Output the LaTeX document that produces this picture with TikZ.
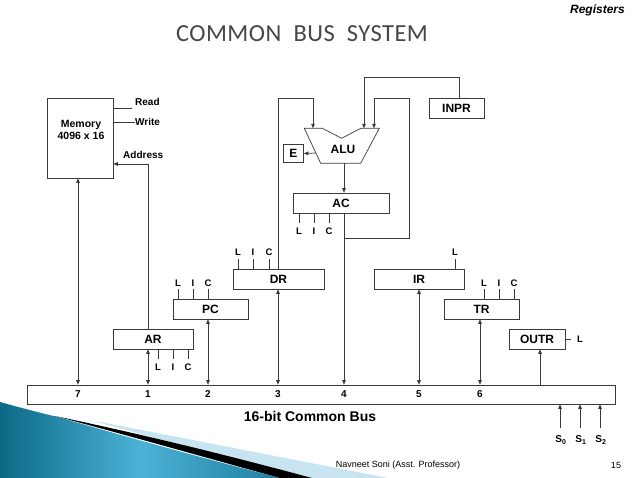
\documentclass[tikz,border=0pt]{standalone}
\usepackage{fontspec}
\setmainfont{Liberation Sans}
\newfontfamily\titlefont[LetterSpace=2]{Carlito}
\usetikzlibrary{arrows.meta}
\definecolor{wirecol}{HTML}{3A3A3A}
\definecolor{tealdark}{HTML}{0B6A86}
\definecolor{teallight}{HTML}{4DB2D6}
\definecolor{paleblue}{HTML}{C8E4F0}
\begin{document}
\begin{tikzpicture}[x=1pt,y=-1pt,
  every node/.style={inner sep=0pt, font=\bfseries\fontsize{10}{12}\selectfont},
  box/.style={draw=wirecol, line width=0.7pt, font=\bfseries\fontsize{12}{14}\selectfont},
  wire/.style={draw=wirecol, line width=0.7pt},
  tip/.style={-{Triangle[length=4.5pt,width=3.6pt]}},
  both/.style={{Triangle[length=4.5pt,width=3.6pt]}-{Triangle[length=4.5pt,width=3.6pt]}},
  lic/.style={font=\bfseries\fontsize{9.5}{11}\selectfont},
  busnum/.style={font=\bfseries\fontsize{10}{12}\selectfont},
]
\useasboundingbox (0,0) rectangle (638,478);

% decorative swoosh
\fill[paleblue] (90,420) -- (388,478) -- (300,478) -- cycle;
\shade[left color=tealdark, right color=tealdark!70!teallight, middle color=teallight]
  (0,402) .. controls (25,409) and (45,414) .. (58,417) .. controls (130,438) and (210,460) .. (280,478) -- (0,478) -- cycle;
\fill[black] (55,416) .. controls (150,436) and (230,456) .. (312,478) -- (280,478) .. controls (200,456) and (130,436) .. (55,416) -- cycle;

% title and header
\node[font=\titlefont\fontsize{24.5}{27}\selectfont, text=black!72] (title) at (302,34) {COMMON\ \ BUS\ \ SYSTEM};
\node[font=\bfseries\itshape\fontsize{12}{14}\selectfont, anchor=east] (hdr) at (625,10) {Registers};

% columns
\coordinate (c7) at (78,0);
\coordinate (c1) at (148,0);
\coordinate (c2) at (208,0);
\coordinate (c3) at (278,0);
\coordinate (c4) at (344,0);
\coordinate (c5) at (419,0);
\coordinate (c6) at (480,0);
\coordinate (cO) at (540,0);
\coordinate (topA) at (0,98);

% memory
\node[box, minimum width=66pt, minimum height=80pt] (mem) at (80,138) {};
\node[align=center, font=\bfseries\fontsize{10.5}{12}\selectfont] (memtxt) at (81,130) {Memory\\4096 x 16};
\node[anchor=west] (read) at (135,102) {Read};
\node[anchor=west] (write) at (135,122) {Write};
\node[anchor=west] (addr) at (123,155) {Address};
\draw[wire] ([yshift=30pt]mem.east) -- ++(19,0) coordinate (readend);
\draw[wire] (mem.east |- write.west) -- (write.west);

% ALU
\coordinate (aluin1) at (313,128.3);
\coordinate (aluin2) at (364,128.3);
\coordinate (aluin3) at (374,128.3);
\coordinate (aluout) at (344,163.3);
\coordinate (aluE) at (316,153);
\draw[wire, line join=miter] (304.3,128.3) -- (322.3,128.3) -- (341.7,138.3) -- (360.7,128.3) -- (379.3,128.3)
  -- (360.7,163.3) -- (320.7,163.3) -- cycle;
\node[font=\bfseries\fontsize{12}{14}\selectfont] (alu) at (343,149) {ALU};
\node[box, minimum width=20pt, minimum height=18pt] (E) at (293.5,153.5) {E};
\node[box, minimum width=55pt, minimum height=20pt] (INPR) at (456.5,108) {INPR};
\node[box, minimum width=96pt, minimum height=20pt] (AC) at (341,203) {AC};

% registers
\node[box, minimum width=91pt, minimum height=20pt] (DR) at (278.5,279) {DR};
\node[box, minimum width=75pt, minimum height=20pt] (PC) at (210.5,309) {PC};
\node[box, minimum width=80pt, minimum height=20pt] (AR) at (153,339) {AR};
\node[box, minimum width=90pt, minimum height=20pt] (IR) at (419,279) {IR};
\node[box, minimum width=75pt, minimum height=20pt] (TR) at (481.5,309) {TR};
\node[box, minimum width=56pt, minimum height=20pt] (OUTR) at (537,339) {OUTR};

% bus
\node[box, minimum width=588pt, minimum height=19pt] (bus) at (321,394.5) {};
\foreach \c/\n in {c7/7,c1/1,c2/2,c3/3,c4/4,c5/5,c6/6}
  \node[busnum] at (bus.center -| \c) {\n};
\node[font=\bfseries\fontsize{14}{16}\selectfont] (buslbl) at (310,416) {16-bit Common Bus};

% L I C control lines
\foreach \x/\t in {299/L,314/I,329/C} {
  \draw[wire] (\x,213) -- (\x,223);
  \node[lic] at (\x,231) {\t};
}
\foreach \x/\t in {238/L,253/I,269/C} {
  \draw[wire] (\x,269) -- (\x,259);
  \node[lic] at (\x,252) {\t};
}
\foreach \x/\t in {178/L,193/I,208/C} {
  \draw[wire] (\x,299) -- (\x,289);
  \node[lic] at (\x,283) {\t};
}
\foreach \x/\t in {484/L,499/I,514/C} {
  \draw[wire] (\x,299) -- (\x,289);
  \node[lic] at (\x,283) {\t};
}
\foreach \x/\t in {158/L,173/I,188/C} {
  \draw[wire] (\x,349) -- (\x,359);
  \node[lic] at (\x,367) {\t};
}
\draw[wire] (455,269) -- (455,259);
\node[lic] (irL) at (455,252) {L};
\node[lic] (outL) at (580,339) {L};
\draw[wire] (OUTR.east) -- ++(6,0);

% bus connections
\draw[wire, both] (mem.south -| c7) -- (bus.north -| c7);
\draw[wire, both] (AR.south -| c1) -- (bus.north -| c1);
\draw[wire, both] (PC.south -| c2) -- (bus.north -| c2);
\draw[wire, both] (DR.south -| c3) -- (bus.north -| c3);
\draw[wire, tip] (AC.south -| c4) -- (bus.north -| c4);
\draw[wire, both] (IR.south -| c5) -- (bus.north -| c5);
\draw[wire, both] (TR.south -| c6) -- (bus.north -| c6);
\draw[wire, tip] (bus.north -| cO) -- (OUTR.south -| cO);

% address
\draw[wire, tip] (AR.north -| c1) |- ([yshift=-26pt]mem.east);

% ALU paths
\draw[wire, tip] (DR.north -| c3) |- (aluin1 |- topA) -- (aluin1);
\draw[wire, tip] ([xshift=2.5pt]INPR.north) -- ++(0,-20) -| (aluin2);
\coordinate (loopL) at (344,238);
\coordinate (loopR) at (409,238);
\draw[wire, tip] (loopL) -- (loopR) |- (aluin3 |- topA) -- (aluin3);
\draw[wire, tip] (aluout) -- (AC.north -| aluout);
\draw[wire, tip] (aluE) -- (E.east);

% select lines
\foreach \x/\i in {560/0,580/1,600/2} {
  \coordinate (s\i) at (\x,428);
  \draw[wire, tip] (s\i) -- (bus.south -| s\i);
  \node[font=\bfseries\fontsize{10}{12}\selectfont] at (\x+1,440) {S\textsubscript{\i}};
}

% footer
\node[font=\fontsize{9}{11}\selectfont] (author) at (398,465) {Navneet Soni (Asst. Professor)};
\node[font=\fontsize{9}{11}\selectfont] (page) at (616,465) {15};
\end{tikzpicture}
\end{document}
